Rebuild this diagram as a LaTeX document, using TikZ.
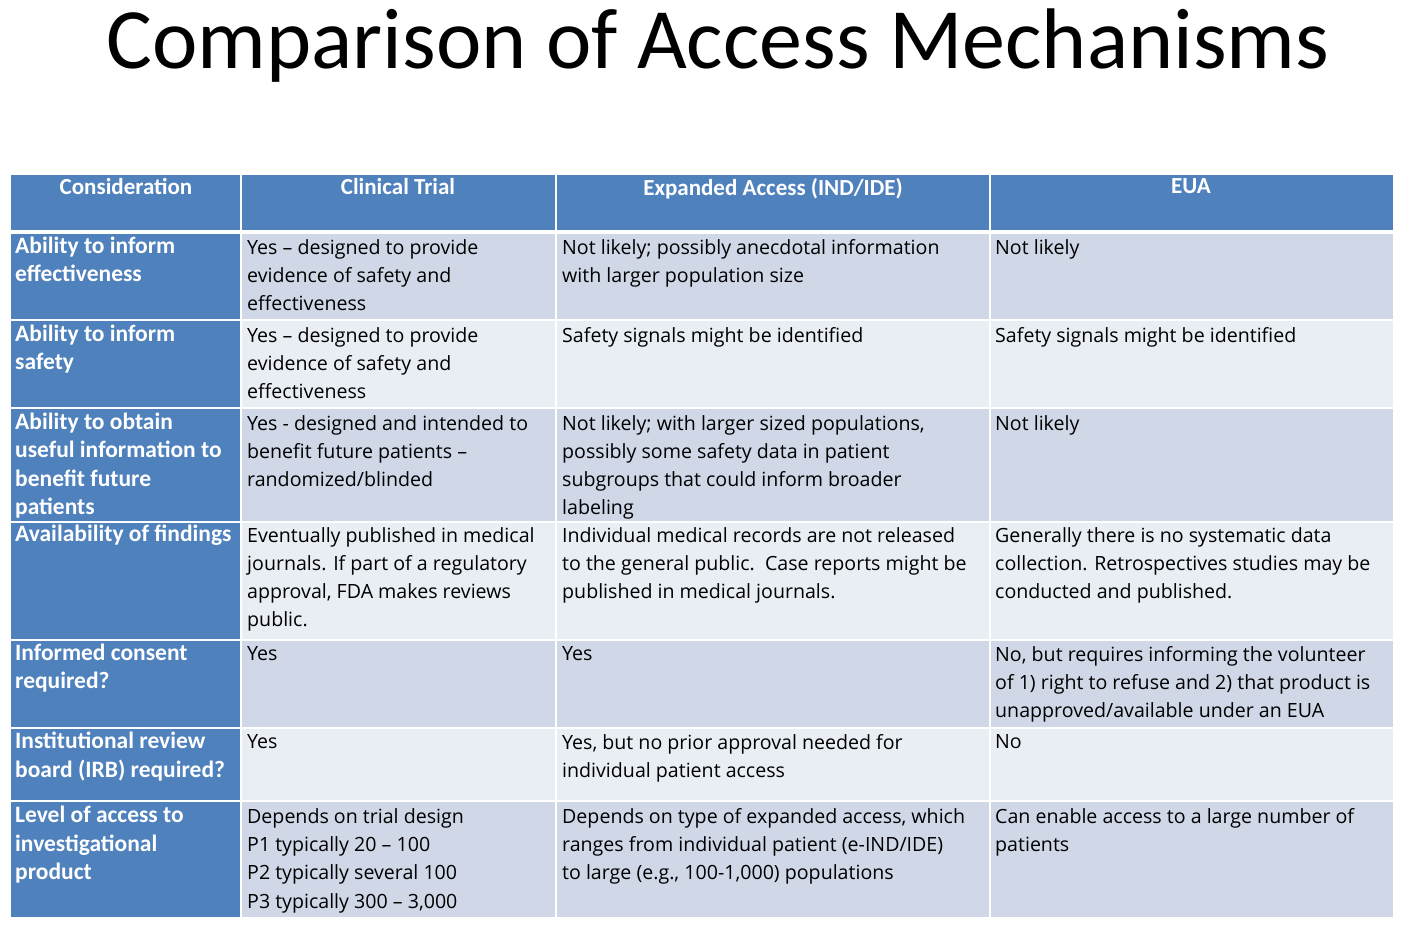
\documentclass[tikz,border=0pt]{standalone}
\usepackage{fontspec}
\setmainfont{Open Sans}
\newfontfamily\carl{Carlito}
\begin{document}
\begin{tikzpicture}[x=1pt,y=-1pt,
  hdr/.style={fill={rgb,255:red,79;green,129;blue,189}},
  dk/.style={fill={rgb,255:red,208;green,216;blue,232}},
  lt/.style={fill={rgb,255:red,233;green,237;blue,244}},
  body/.style={anchor=north west,inner sep=0pt,align=left,font=\fontsize{19.6}{28.3}\selectfont,text=black},
  bold/.style={anchor=north west,inner sep=0pt,align=left,font=\carl\bfseries\fontsize{23.5}{28.3}\selectfont,text=white},
  head/.style={anchor=north,inner sep=0pt,font=\carl\bfseries\fontsize{23}{26}\selectfont,text=white}]
\useasboundingbox (0,0) rectangle (1408,926);
\fill[white] (0,0) rectangle (1408,926);
\node[font=\carl\fontsize{86}{90}\selectfont] (title) at (718,46) {Comparison of Access Mechanisms};
% grid
\def\xa{11}\def\xb{241}\def\xc{556}\def\xd{990}\def\xe{1393}
\foreach \ya/\yb/\st in {233/320/dk,320/408/lt,408/522/dk,522/640/lt,640/728/dk,728/801/lt,801/918/dk}{
  \fill[hdr] (\xa,\ya+1) rectangle (\xb-1,\yb-1);
  \fill[\st] (\xb+1,\ya+1) rectangle (\xc-1,\yb-1);
  \fill[\st] (\xc+1,\ya+1) rectangle (\xd-1,\yb-1);
  \fill[\st] (\xd+1,\ya+1) rectangle (\xe,\yb-1);
}
\fill[hdr] (\xa,175) rectangle (\xb-1,230);
\fill[hdr] (\xb+1,175) rectangle (\xc-1,230);
\fill[hdr] (\xc+1,175) rectangle (\xd-1,230);
\fill[hdr] (\xd+1,175) rectangle (\xe,230);
% header
\node[head] (h1) at (126,178) {Consideration};
\node[head] (h2) at (398,178) {Clinical Trial};
\node[head] (h3) at (773,178) {Expanded Access (IND/IDE)};
\node[head] (h4) at (1191,178) {EUA};
% first column
\node[bold] (c1) at (15,237) {Ability to inform\\effectiveness};
\node[bold] (c2) at (15,325) {Ability to inform\\safety};
\node[bold] (c3) at (15,413) {Ability to obtain\\useful information to\\benefit future\\patients};
\node[bold] (c4) at (15,525) {Availability of findings};
\node[bold] (c5) at (15,644) {Informed consent\\required?};
\node[bold] (c6) at (15,732) {Institutional review\\board (IRB) required?};
\node[bold] (c7) at (15,806) {Level of access to\\investigational\\product};
% col 2
\node[body] (b1) at (247,239) {Yes -- designed to provide\\evidence of safety and\\effectiveness};
\node[body] (b2) at (247,327) {Yes -- designed to provide\\evidence of safety and\\effectiveness};
\node[body] (b3) at (247,415) {Yes - designed and intended to\\benefit future patients --\\randomized/blinded};
\node[body] (b4) at (247,527) {Eventually published in medical\\journals. If part of a regulatory\\approval, FDA makes reviews\\public.};
\node[body] (b5) at (247,646) {Yes};
\node[body] (b6) at (247,734) {Yes};
\node[body] (b7) at (247,808) {Depends on trial design\\P1 typically 20 -- 100\\P2 typically several 100\\P3 typically 300 -- 3,000};
% col 3
\node[body] (d1) at (562,239) {Not likely; possibly anecdotal information\\with larger population size};
\node[body] (d2) at (562,327) {Safety signals might be identified};
\node[body] (d3) at (562,415) {Not likely; with larger sized populations,\\possibly some safety data in patient\\subgroups that could inform broader\\labeling};
\node[body] (d4) at (562,527) {Individual medical records are not released\\to the general public.\ \ Case reports might be\\published in medical journals.};
\node[body] (d5) at (562,646) {Yes};
\node[body] (d6) at (562,734) {Yes, but no prior approval needed for\\individual patient access};
\node[body] (d7) at (562,808) {Depends on type of expanded access, which\\ranges from individual patient (e-IND/IDE)\\to large (e.g., 100-1,000) populations};
% col 4
\node[body] (e1) at (995,239) {Not likely};
\node[body] (e2) at (995,327) {Safety signals might be identified};
\node[body] (e3) at (995,415) {Not likely};
\node[body] (e4) at (995,527) {Generally there is no systematic data\\collection. Retrospectives studies may be\\conducted and published.};
\node[body] (e5) at (995,646) {No, but requires informing the volunteer\\of 1) right to refuse and 2) that product is\\unapproved/available under an EUA};
\node[body] (e6) at (995,734) {No};
\node[body] (e7) at (995,808) {Can enable access to a large number of\\patients};
\end{tikzpicture}
\end{document}
